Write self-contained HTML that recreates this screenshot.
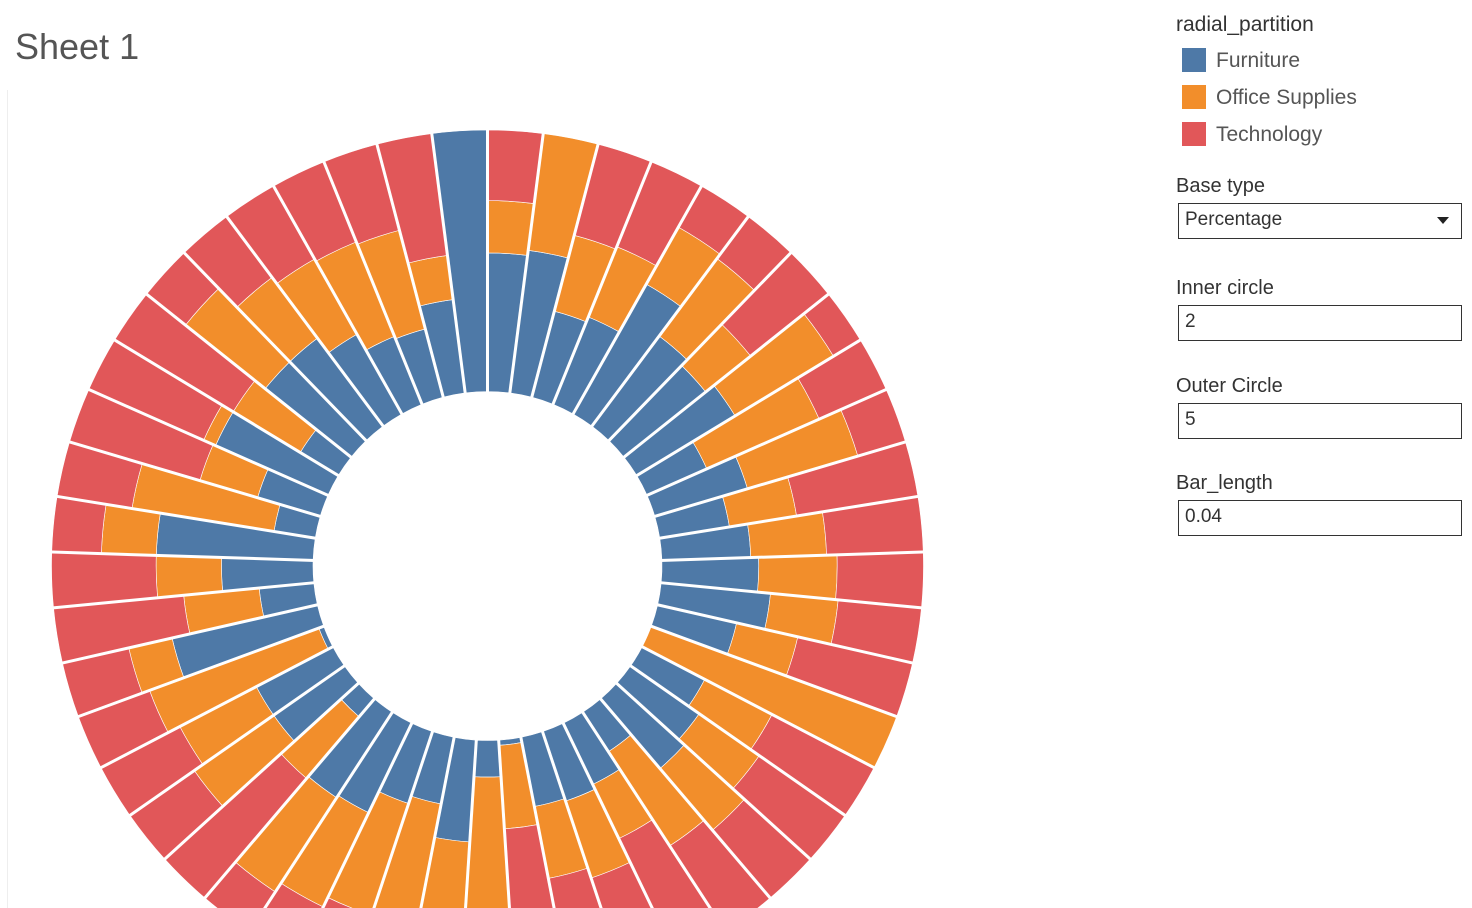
<!DOCTYPE html>
<html><head><meta charset="utf-8"><style>
html,body{margin:0;width:1472px;height:908px;overflow:hidden;background:#fff;font-family:"Liberation Sans",sans-serif;color:#333;position:relative}
.t{position:absolute;white-space:nowrap}
.box{position:absolute;left:1178px;width:284px;height:36px;border:1.5px solid #333;box-sizing:border-box;font-size:19px;line-height:32px;padding-left:6px;color:#333}
.sw{position:absolute;left:1182px;width:24px;height:24px}
</style></head><body>
<div class="t" style="left:15px;top:26px;font-size:36px;color:#555">Sheet 1</div>
<div style="position:absolute;left:7px;top:90px;width:1px;height:818px;background:#eee"></div>
<svg width="1472" height="908" style="position:absolute;left:0;top:0;overflow:hidden" id="chart"></svg>
<div class="t" style="left:1176px;top:13px;font-size:21px">radial_partition</div>
<div class="sw" style="top:48px;background:#4e79a7"></div>
<div class="t" style="left:1216px;top:49px;font-size:21px;color:#555">Furniture</div>
<div class="sw" style="top:85px;background:#f28e2b"></div>
<div class="t" style="left:1216px;top:86px;font-size:21px;color:#555">Office Supplies</div>
<div class="sw" style="top:122px;background:#e15759"></div>
<div class="t" style="left:1216px;top:123px;font-size:21px;color:#555">Technology</div>
<div class="t" style="left:1176px;top:175px;font-size:20px">Base type</div>
<div class="box" style="top:203px">Percentage<span style="position:absolute;right:12px;top:13px;width:0;height:0;border-left:6px solid transparent;border-right:6px solid transparent;border-top:7px solid #222"></span></div>
<div class="t" style="left:1176px;top:277px;font-size:20px">Inner circle</div>
<div class="box" style="top:305px">2</div>
<div class="t" style="left:1176px;top:375px;font-size:20px">Outer Circle</div>
<div class="box" style="top:403px">5</div>
<div class="t" style="left:1176px;top:472px;font-size:20px">Bar_length</div>
<div class="box" style="top:500px">0.04</div>
<script>
const furniture=[.53,.55,.34,.36,.57,.43,.40,.44,.25,.37,.27,.34,.37,.42,.31,0,.27,.32,.35,.18,.26,.28,.27,.02,.14,.39,.26,.29,.38,.39,.09,.33,.33,.02,.57,.21,.35,.60,.16,.25,.47,.17,.42,.42,.35,.28,.27,.36,1];
const officeSupplies=[.20,.45,.30,.29,.25,.37,.22,.44,.47,.44,.26,.29,.30,.26,.24,1,.29,.28,.31,.43,.23,.31,.28,.32,.55,.33,.45,.45,.40,.43,.31,.37,.33,.69,.17,.29,.25,.21,.55,.23,.05,.30,.39,.29,.33,.39,.39,.17,0];
const colors=["#4e79a7","#f28e2b","#e15759"];
const names=["furniture","office-supplies","technology"];
const svg=document.getElementById('chart');
const NS="http://www.w3.org/2000/svg";
const cx=487.5,cy=566,r0=174.5,r1=436;
const N=furniture.length;
function ang(i){return i*2*Math.PI/N;}
function rad(f){return r0+(r1-r0)*f;}
function pt(a,r){return [cx+r*Math.sin(a),cy-r*Math.cos(a)];}
function sector(a0,a1,ra,rb){
 const p1=pt(a0,ra),p2=pt(a0,rb),p3=pt(a1,rb),p4=pt(a1,ra);
 return `M${p1}L${p2}A${rb},${rb} 0 0 1 ${p3}L${p4}A${ra},${ra} 0 0 0 ${p1}Z`;
}
for(let i=0;i<N;i++){
 const b=furniture[i],o=officeSupplies[i];
 const cuts=[0,b,Math.min(1,b+o),1];
 for(let k=0;k<3;k++){
  if(cuts[k+1]-cuts[k]<=0.001)continue;
  const p=document.createElementNS(NS,'path');
  p.setAttribute('d',sector(ang(i),ang(i+1),rad(cuts[k]),rad(cuts[k+1])));
  p.setAttribute('fill',colors[k]);
  p.setAttribute('stroke','#fff');
  p.setAttribute('stroke-width','0.6');
  
  
  svg.appendChild(p);
 }
}
for(let i=0;i<N;i++){
 const l=document.createElementNS(NS,'line');
 const a=pt(ang(i),r0-2),c=pt(ang(i),r1+3);
 l.setAttribute('x1',a[0]);l.setAttribute('y1',a[1]);l.setAttribute('x2',c[0]);l.setAttribute('y2',c[1]);
 l.setAttribute('stroke','#fff');l.setAttribute('stroke-width','3');
 
 
 svg.appendChild(l);
}
</script>
</body></html>
